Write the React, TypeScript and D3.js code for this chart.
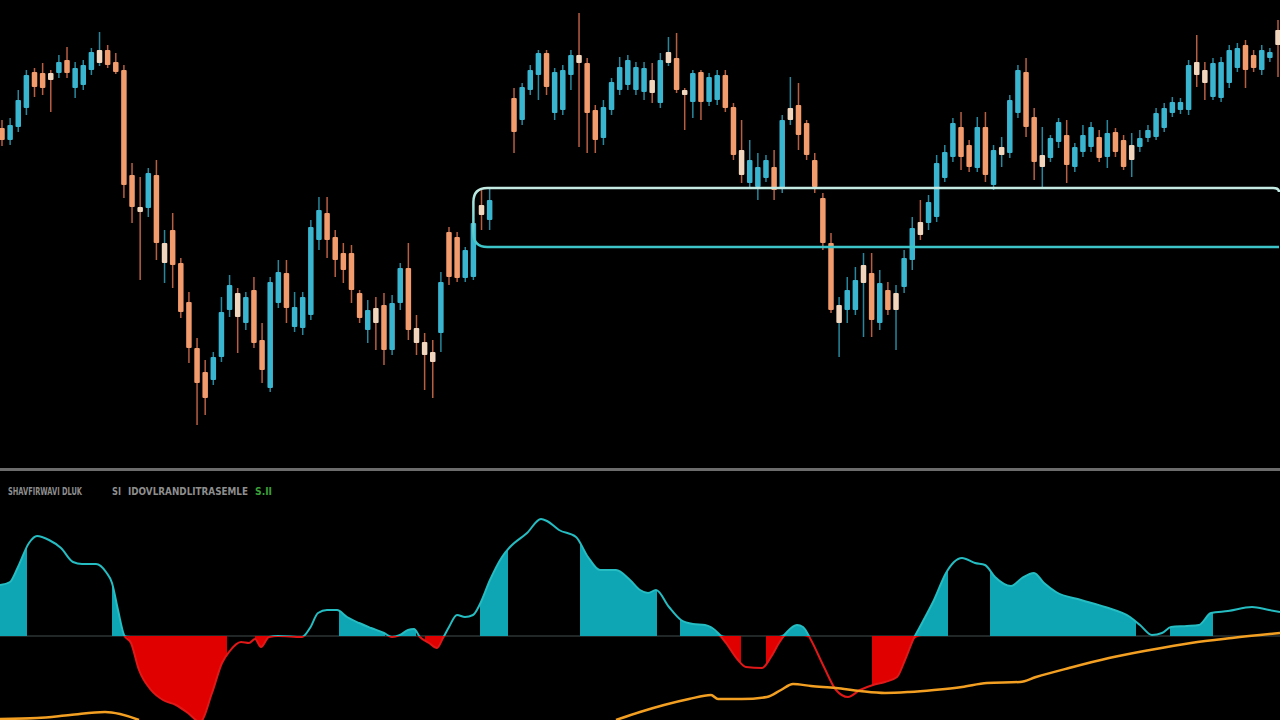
import React, { useEffect } from 'react';
import * as d3 from 'd3';

const W = 1280;
const H = 720;

// OHLC candles: [open, high, low, close]; null = empty slot
const candles: ([number, number, number, number] | null)[] = [
  [322, 330, 304, 310], [310, 332, 305, 325], [323, 360, 318, 350], [342, 380, 335, 375],
  [378, 382, 353, 363], [377, 387, 355, 362], [377, 380, 338, 370], [377, 395, 372, 388],
  [390, 403, 372, 377], [362, 388, 352, 382], [365, 390, 360, 385], [380, 402, 375, 398],
  [387, 418, 384, 400], [400, 405, 382, 385], [388, 397, 376, 378], [380, 385, 252, 265],
  [275, 287, 227, 243], [243, 273, 170, 238], [242, 282, 233, 277], [275, 290, 190, 207],
  [187, 220, 167, 207], [220, 237, 162, 185], [187, 192, 132, 138], [148, 158, 87, 102],
  [102, 112, 25, 67], [78, 90, 35, 52], [70, 98, 65, 93], [93, 153, 88, 138],
  [140, 175, 133, 165], [157, 162, 97, 133], [127, 158, 120, 153], [160, 173, 102, 107],
  [110, 127, 67, 80], [62, 173, 58, 168], [147, 190, 142, 178], [177, 190, 127, 142],
  [123, 158, 118, 143], [122, 158, 115, 153], [135, 230, 130, 223], [210, 253, 200, 240],
  [237, 253, 192, 210], [213, 220, 173, 190], [197, 207, 167, 180], [197, 205, 147, 160],
  [157, 160, 127, 132], [120, 150, 107, 140], [142, 153, 100, 127], [145, 157, 85, 100],
  [100, 155, 95, 147], [147, 187, 140, 182], [182, 207, 110, 120], [122, 135, 95, 107],
  [108, 117, 60, 95], [98, 110, 52, 88], [117, 178, 98, 168], [218, 223, 165, 173],
  [213, 218, 168, 172], [172, 203, 168, 200], [173, 232, 170, 227], [245, 260, 220, 235],
  [230, 262, 220, 250], null, null,
  [352, 362, 297, 318], [330, 367, 325, 363], [360, 385, 355, 380], [375, 400, 350, 397],
  [397, 400, 355, 363], [337, 382, 330, 378], [340, 385, 335, 380], [375, 400, 360, 395],
  [395, 437, 303, 387], [387, 392, 297, 337], [340, 345, 297, 310], [312, 350, 305, 343],
  [340, 372, 335, 368], [360, 393, 355, 383], [365, 395, 360, 390], [360, 388, 355, 383],
  [358, 388, 350, 382], [370, 387, 347, 357], [347, 397, 342, 390], [387, 413, 384, 398],
  [392, 417, 357, 360], [360, 362, 320, 355], [348, 380, 332, 377], [378, 380, 330, 348],
  [348, 377, 344, 373], [350, 380, 345, 375], [375, 380, 338, 342], [343, 347, 290, 295],
  [300, 330, 267, 275], [267, 310, 263, 290], [263, 297, 250, 283], [272, 295, 268, 290],
  [283, 300, 250, 260], [262, 335, 257, 330], [330, 373, 325, 342], [345, 367, 300, 315],
  [327, 330, 290, 295], [290, 297, 257, 263], [252, 257, 200, 207], [207, 217, 137, 140],
  [127, 153, 93, 145], [140, 173, 127, 160], [140, 183, 135, 170], [167, 197, 113, 185],
  [177, 197, 113, 130], [127, 180, 120, 167], [160, 168, 135, 140], [140, 165, 100, 157],
  [163, 200, 157, 192], [190, 233, 180, 222], [228, 250, 210, 215], [227, 255, 220, 248],
  [233, 295, 228, 287], [272, 305, 268, 298], [293, 332, 288, 327], [323, 338, 280, 293],
  [305, 310, 278, 283], [282, 333, 278, 323], [323, 338, 268, 275], [265, 305, 260, 300],
  [295, 313, 283, 303], [297, 355, 292, 350], [337, 385, 332, 380], [378, 392, 313, 323],
  [333, 342, 270, 288], [283, 323, 262, 295], [292, 315, 288, 312], [308, 332, 302, 328],
  [315, 330, 267, 285], [283, 307, 278, 303], [298, 325, 293, 315], [303, 328, 298, 323],
  [313, 320, 288, 292], [293, 330, 282, 317], [318, 322, 293, 298], [310, 315, 280, 283],
  [290, 317, 273, 305], [303, 320, 298, 312], [312, 325, 308, 320], [313, 342, 310, 337],
  [322, 347, 318, 342], [337, 353, 333, 348], [340, 352, 336, 348], [340, 390, 335, 385],
  [388, 415, 363, 375], [380, 388, 350, 367], [353, 392, 350, 387], [352, 393, 348, 388],
  [367, 405, 362, 400], [382, 407, 378, 402], [405, 410, 362, 380], [395, 400, 378, 382],
  [380, 405, 375, 400], [392, 402, 388, 398], [420, 430, 373, 405],
];

// Range box (resistance / support), starting at candle index
const boxStartIndex = 58;
const resistanceLevel = 262;
const supportLevel = 203;

// Oscillator samples (time units, value)
const oscTime = [0, 10, 18, 29, 37, 49, 61, 73, 82, 96, 106, 112, 118, 124, 131, 139, 151, 163, 176, 188,
  200, 212, 222, 229, 241, 249, 255, 261, 269, 278, 302, 310, 318, 327, 337, 347, 359, 371, 384, 392,
  400, 408, 414, 420, 429, 437, 443, 449, 457, 465, 473, 480, 490, 502, 510, 527, 541, 547, 559, 576,
  588, 600, 616, 630, 640, 648, 656, 669, 681, 693, 705, 718, 726, 738, 746, 762, 771, 779, 787, 797,
  803, 811, 824, 836, 848, 860, 873, 885, 897, 905, 913, 922, 934, 946, 954, 962, 975, 985, 995, 1011,
  1022, 1034, 1044, 1056, 1081, 1105, 1130, 1140, 1152, 1162, 1171, 1187, 1199, 1211, 1228, 1252, 1269, 1280];
const oscValue = [51, 54, 69, 93, 100, 96, 88, 74, 72, 72, 64, 53, 26, 1, -7, -34, -54, -64, -69, -77,
  -86, -57, -27, -16, -6, -7, -3, -11, -1, 0, -1, 8, 23, 26, 26, 19, 13, 8, 3, -1,
  1, 6, 7, -1, -7, -12, -2, 9, 21, 19, 21, 32, 56, 79, 89, 103, 117, 115, 106, 99,
  79, 66, 66, 56, 46, 43, 46, 29, 16, 12, 11, 3, -7, -24, -31, -32, -21, -7, 4, 11,
  9, -4, -31, -54, -61, -54, -49, -46, -41, -24, -4, 13, 36, 63, 74, 78, 73, 71, 59, 50,
  58, 63, 53, 44, 36, 29, 19, 11, 1, 3, 9, 10, 11, 23, 25, 29, 26, 24];

// Time ranges where the histogram fill is shown
const fillRanges: [number, number][] = [
  [0, 27], [112, 227], [255, 270], [339, 385], [398, 416], [425, 445], [480, 508],
  [580, 657], [680, 741], [766, 808], [872, 948], [990, 1136], [1170, 1213],
];

// Slow signal line (null = off-scale)
const signalTime = [0, 37, 70, 105, 120, 139, 616, 640, 664, 689, 711, 718, 742, 767, 781, 793, 811, 836,
  860, 885, 909, 934, 962, 987, 1020, 1036, 1069, 1109, 1150, 1191, 1232, 1280];
const signalValue: (number | null)[] = [-83, -82, -79, -76, -78, -84, null, -76, -69, -63, -59, -63, -63, -61, -54, -48, -50, -52,
  -55, -57, -56, -54, -51, -47, -46, -41, -32, -22, -14, -7, -2, 3];
const signalStart = [616, -84];

const legendParts = ['SHAVFIRWAVI DLUK', 'SI', 'IDOVLRANDLITRASEMLE', 'S.II'];

const TEAL = '#3ab5d0';
const ORANGE = '#f29b6c';
const PALE = '#f1d6bd';

export default function App() {
  useEffect(() => {
    document.body.style.margin = '0';
    document.body.style.background = '#000';
  }, []);

  const x = d3.scaleLinear().domain([0, candles.length - 1]).range([2, 1278]);
  const y = d3.scaleLinear().domain([0, 450]).range([450, 0]);
  const bw = 5.5;

  const ox = d3.scaleLinear().domain([0, 1280]).range([0, W]);
  const oy = d3.scaleLinear().domain([-100, 100]).range([736, 536]);
  const zeroY = oy(0);

  const osc = oscTime.map((t, i) => ({ t, v: oscValue[i] }));
  const pos = d3.area<any>().curve(d3.curveMonotoneX).x(d => ox(d.t)).y0(zeroY).y1(d => oy(Math.max(0, d.v)));
  const neg = d3.area<any>().curve(d3.curveMonotoneX).x(d => ox(d.t)).y0(zeroY).y1(d => oy(Math.min(0, d.v)));
  const line = d3.line<any>().curve(d3.curveMonotoneX).x(d => ox(d.t)).y(d => oy(d.v));

  const sig = signalTime.map((t, i) => ({ t, v: signalValue[i] }));
  sig[6] = { t: signalStart[0], v: signalStart[1] };
  const sigLine = d3.line<any>().curve(d3.curveMonotoneX).x(d => ox(d.t)).y(d => oy(d.v));
  const sigLeft = sigLine(sig.slice(0, 6));
  const sigRight = sigLine(sig.slice(6));

  const bx0 = x(boxStartIndex);
  const bx1 = 1279;
  const ty = y(resistanceLevel);
  const by = y(supportLevel);
  const r = 14;
  const boxPath = `M${bx1},${ty + 4} Q${bx1},${ty} ${bx1 - 6},${ty} L${bx0 + r},${ty} Q${bx0},${ty} ${bx0},${ty + r} L${bx0},${by - r} Q${bx0},${by} ${bx0 + r},${by} L${bx1},${by}`;

  return (
    <svg width={W} height={H} style={{ display: 'block', position: 'absolute', left: 0, top: 0 }}>
      <defs>
        <linearGradient id="boxg" gradientUnits="userSpaceOnUse" x1="0" y1={ty} x2="0" y2={by}>
          <stop offset="0" stopColor="#c4eae2" />
          <stop offset="1" stopColor="#3cc4c8" />
        </linearGradient>
        <clipPath id="fills">
          {fillRanges.map((fr, i) => (
            <rect key={i} x={ox(fr[0])} y={480} width={ox(fr[1]) - ox(fr[0])} height={260} />
          ))}
        </clipPath>
        <clipPath id="above"><rect x={0} y={480} width={W} height={zeroY - 480} /></clipPath>
        <clipPath id="below"><rect x={0} y={zeroY} width={W} height={H - zeroY} /></clipPath>
      </defs>
      <rect width={W} height={H} fill="#000" />

      {/* candles */}
      <g>
        {candles.map((c, i) => {
          if (!c) return null;
          const [o, h, l, cl] = c;
          const up = cl >= o;
          const range = h - l;
          const pale = Math.abs(cl - o) < 0.4 * range;
          const col = pale ? PALE : up ? TEAL : ORANGE;
          const wickCol = up ? '#2f9fb8' : '#d9704e';
          const cx = x(i);
          const top = y(Math.max(o, cl));
          const bot = y(Math.min(o, cl));
          return (
            <g key={i}>
              <line x1={cx} x2={cx} y1={y(h)} y2={y(l)} stroke={wickCol} strokeWidth={1.5} opacity={0.85} />
              <rect x={cx - bw / 2} y={top} width={bw} height={Math.max(1.5, bot - top)} fill={col} rx={1} />
            </g>
          );
        })}
      </g>

      {/* range box */}
      <path d={boxPath} fill="none" stroke="url(#boxg)" strokeWidth={2.5} />

      {/* separator */}
      <line x1={0} x2={W} y1={469.5} y2={469.5} stroke="#6c6c6c" strokeWidth={3} />

      {/* legend */}
      <g fontFamily="'DejaVu Sans Condensed', 'Liberation Sans Narrow', 'DejaVu Sans', sans-serif" fontSize={10} fontWeight="bold">
        <text x={8} y={495} fill="#8e8e8e" textLength={74} lengthAdjust="spacingAndGlyphs">{legendParts[0]}</text>
        <text x={112} y={495} fill="#8e8e8e" textLength={9} lengthAdjust="spacingAndGlyphs">{legendParts[1]}</text>
        <text x={128} y={495} fill="#8e8e8e" textLength={120} lengthAdjust="spacingAndGlyphs">{legendParts[2]}</text>
        <text x={255} y={495} fill="#3aa03a" textLength={17} lengthAdjust="spacingAndGlyphs">{legendParts[3]}</text>
      </g>

      {/* oscillator */}
      <line x1={0} x2={W} y1={zeroY} y2={zeroY} stroke="#2c3434" strokeWidth={1.5} />
      <g clipPath="url(#fills)">
        <path d={pos(osc) || ''} fill="#0ea6b5" />
        <path d={neg(osc) || ''} fill="#e00000" />
      </g>
      <path d={line(osc) || ''} fill="none" stroke="#25bcc2" strokeWidth={2} clipPath="url(#above)" />
      <path d={line(osc) || ''} fill="none" stroke="#e01818" strokeWidth={2} clipPath="url(#below)" />

      <path d={sigLeft || ''} fill="none" stroke="#f3a022" strokeWidth={2.5} />
      <path d={sigRight || ''} fill="none" stroke="#f3a022" strokeWidth={2.5} />
    </svg>
  );
}
